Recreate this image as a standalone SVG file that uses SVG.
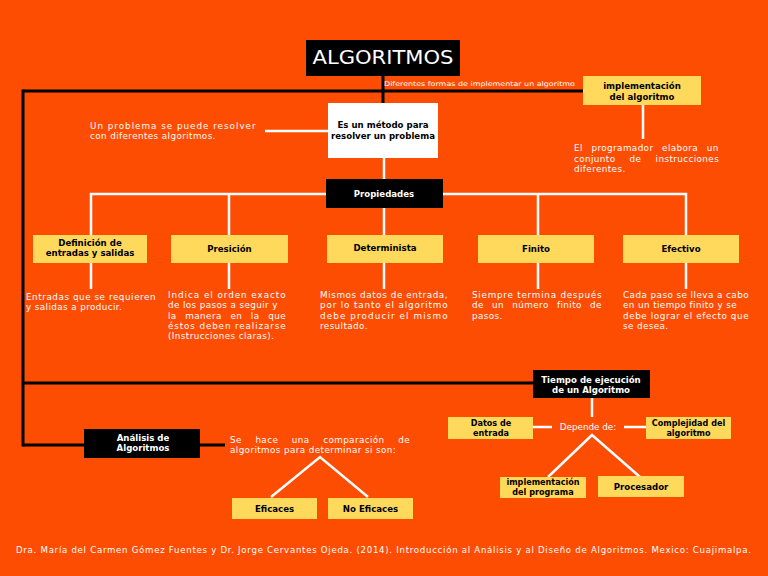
<svg xmlns="http://www.w3.org/2000/svg" width="768" height="576" viewBox="0 0 768 576">
<style>
text{font-family:"DejaVu Sans","Liberation Sans",sans-serif}
.yb{fill:#FFD95B}
.bb{fill:#000}
.wb{fill:#fff}
.lk{fill:#000;font-size:8.6px;font-weight:bold;text-anchor:middle}
.sk{fill:#000;font-size:8.1px;font-weight:bold;text-anchor:middle}
.lw{fill:#fff;font-size:8.6px;font-weight:bold;text-anchor:middle}
.t{fill:#fff;font-size:8.8px;letter-spacing:0.4px}
.kl{stroke:#000;stroke-width:3;fill:none}
.wl{stroke:#fff;stroke-width:2.5;fill:none}
</style>
<rect width="768" height="576" fill="#FD4D02"/>

<g id="connectors">
  <path class="kl" d="M383 75V103"/>
  <path class="kl" d="M23 91H583"/>
  <path class="kl" d="M23 89.5V446.5"/>
  <path class="kl" d="M23 383H533"/>
  <path class="kl" d="M23 445H84M200 445H225"/>
  <path class="wl" d="M643 105V139"/>
  <path class="wl" d="M265 131H328"/>
  <path class="wl" d="M384 158V179"/>
  <path class="wl" d="M91 235V194H686V235M229 194V235M384 207V235M538 194V235"/>
  <path class="wl" d="M91 263V289M229 263V289M384 263V289M538 263V289M686 263V289"/>
  <path class="wl" d="M592 398V417"/>
  <path class="wl" d="M533 427H552M624 427H646"/>
  <path class="wl" d="M548 477L592 435L640 477"/>
  <path class="wl" d="M271 497L320 457L368 497"/>
</g>

<g id="title">
  <rect class="bb" x="306" y="40" width="154" height="36"/>
  <text x="383" y="64" fill="#fff" font-size="20" font-weight="500" text-anchor="middle" textLength="141" lengthAdjust="spacingAndGlyphs" font-family="Open Sans, sans-serif">ALGORITMOS</text>
</g>
<text x="384" y="86" fill="#fff" font-size="6.5" textLength="191" lengthAdjust="spacingAndGlyphs">Diferentes formas de implementar un algoritmo</text>

<g id="implementacion">
  <rect class="yb" x="583" y="76" width="118" height="29"/>
  <text class="lk" x="642" y="89">implementación</text>
  <text class="lk" x="642" y="100">del algoritmo</text>
</g>
<g id="programador">
  <text class="t" x="574" y="151" word-spacing="5.5">El programador elabora un</text>
  <text class="t" x="574" y="161.5" word-spacing="11">conjunto de instrucciones</text>
  <text class="t" x="574" y="172">diferentes.</text>
</g>

<g id="metodo">
  <rect class="wb" x="328" y="103" width="110" height="55"/>
  <text class="lk" x="383" y="128">Es un método para</text>
  <text class="lk" x="383" y="138.5">resolver un problema</text>
</g>
<g id="problema">
  <text class="t" x="90" y="129" textLength="166" lengthAdjust="spacing">Un problema se puede resolver</text>
  <text class="t" x="90" y="139.3">con diferentes algoritmos.</text>
</g>

<g id="propiedades">
  <rect class="bb" x="326" y="179" width="117" height="29"/>
  <text class="lw" x="384" y="197">Propiedades</text>
</g>

<g id="definicion">
  <rect class="yb" x="33" y="235" width="114" height="28"/>
  <text class="lk" x="90" y="245.5">Definición de</text>
  <text class="lk" x="90" y="256">entradas y salidas</text>
</g>
<g id="presicion">
  <rect class="yb" x="171" y="235" width="117" height="28"/>
  <text class="lk" x="229.5" y="252">Presición</text>
</g>
<g id="determinista">
  <rect class="yb" x="327" y="235" width="116" height="28"/>
  <text class="lk" x="385" y="250.5">Determinista</text>
</g>
<g id="finito">
  <rect class="yb" x="478" y="235" width="116" height="28"/>
  <text class="lk" x="536" y="252">Finito</text>
</g>
<g id="efectivo">
  <rect class="yb" x="623" y="235" width="116" height="28"/>
  <text class="lk" x="681" y="252">Efectivo</text>
</g>

<g id="desc-definicion">
  <text class="t" x="26" y="300" textLength="130" lengthAdjust="spacing">Entradas que se requieren</text>
  <text class="t" x="26" y="310.3">y salidas a producir.</text>
</g>
<g id="desc-presicion">
  <text class="t" x="168" y="298" textLength="118" lengthAdjust="spacing">Indica el orden exacto</text>
  <text class="t" x="168" y="308.3">de los pasos a seguir y</text>
  <text class="t" x="168" y="318.6" word-spacing="5.5">la manera en la que</text>
  <text class="t" x="168" y="328.9" textLength="118" lengthAdjust="spacing">éstos deben realizarse</text>
  <text class="t" x="168" y="339.2">(Instrucciones claras).</text>
</g>
<g id="desc-determinista">
  <text class="t" x="320" y="298" textLength="128" lengthAdjust="spacing">Mismos datos de entrada,</text>
  <text class="t" x="320" y="308.3" textLength="128" lengthAdjust="spacing">por lo  tanto el algoritmo</text>
  <text class="t" x="320" y="318.6" textLength="128" lengthAdjust="spacing">debe producir el mismo</text>
  <text class="t" x="320" y="328.9">resultado.</text>
</g>
<g id="desc-finito">
  <text class="t" x="472" y="298" textLength="130" lengthAdjust="spacing">Siempre termina después</text>
  <text class="t" x="472" y="308.3" word-spacing="5.1">de un número finito de</text>
  <text class="t" x="472" y="318.6">pasos.</text>
</g>
<g id="desc-efectivo">
  <text class="t" x="623" y="298" textLength="126" lengthAdjust="spacing">Cada paso se lleva a cabo</text>
  <text class="t" x="623" y="308.3">en un tiempo finito y se</text>
  <text class="t" x="623" y="318.6" textLength="126" lengthAdjust="spacing">debe lograr el efecto que</text>
  <text class="t" x="623" y="328.9">se desea.</text>
</g>

<g id="tiempo">
  <rect class="bb" x="533" y="370" width="117" height="28"/>
  <text class="lw" x="591" y="382.5">Tiempo de ejecución</text>
  <text class="lw" x="591" y="393">de un Algoritmo</text>
</g>
<g id="depende">
  <text x="588" y="430" fill="#fff" font-size="8.8" text-anchor="middle">Depende de:</text>
</g>
<g id="datos">
  <rect class="yb" x="448" y="417" width="85" height="22"/>
  <text class="sk" x="491" y="426">Datos de</text>
  <text class="sk" x="491" y="435.5">entrada</text>
</g>
<g id="complejidad">
  <rect class="yb" x="646" y="417" width="85" height="22"/>
  <text class="sk" x="688.5" y="426">Complejidad del</text>
  <text class="sk" x="688.5" y="435.5">algoritmo</text>
</g>
<g id="impl-programa">
  <rect class="yb" x="500" y="477" width="86" height="21"/>
  <text class="sk" x="543" y="485.3">implementación</text>
  <text class="sk" x="543" y="494.8">del programa</text>
</g>
<g id="procesador">
  <rect class="yb" x="598" y="476" width="86" height="21"/>
  <text class="lk" x="641" y="489.5">Procesador</text>
</g>

<g id="analisis">
  <rect class="bb" x="84" y="429" width="116" height="29"/>
  <text class="lw" x="143" y="440.5">Análisis de</text>
  <text class="lw" x="143" y="451">Algoritmos</text>
</g>
<g id="comparacion">
  <text class="t" x="230" y="442.5" word-spacing="10.4">Se hace una comparación de</text>
  <text class="t" x="230" y="452.8">algoritmos para determinar si son:</text>
</g>
<g id="eficaces">
  <rect class="yb" x="232" y="498" width="85" height="21"/>
  <text class="lk" x="274.5" y="511.5">Eficaces</text>
</g>
<g id="no-eficaces">
  <rect class="yb" x="328" y="498" width="85" height="21"/>
  <text class="lk" x="370.5" y="511.5">No Eficaces</text>
</g>

<text x="16" y="553" fill="#fff" font-size="8.6" textLength="735" lengthAdjust="spacing">Dra. María del Carmen Gómez Fuentes y Dr. Jorge Cervantes Ojeda. (2014). Introducción al Análisis y al Diseño de Algoritmos. Mexico: Cuajimalpa.</text>
</svg>
